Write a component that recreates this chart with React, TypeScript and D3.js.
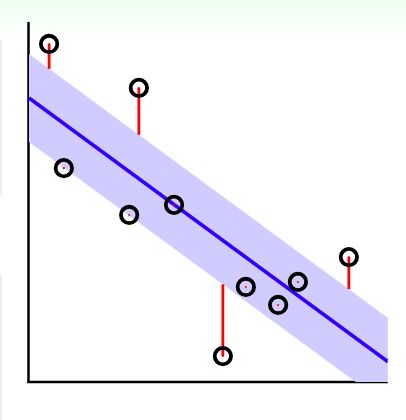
import React from "react";
import * as d3 from "d3";

const xs = [0.56, 3.06, 0.97, 2.79, 4.04, 5.4, 6.04, 6.94, 7.49, 8.91];
const ys = [9.39, 8.17, 5.94, 4.64, 4.92, 0.72, 2.64, 2.14, 2.78, 3.47];
const intercept = 7.89;
const slope = -0.733;
const halfWidth = 1.22;
const xDomain = [0, 10];
const yDomain = [0, 10];

export default function App() {
  const W = 406, H = 420;
  const left = 29, right = 388, top = 22, bottom = 382;
  const x = d3.scaleLinear().domain(xDomain).range([left, right]);
  const y = d3.scaleLinear().domain(yDomain).range([bottom, top]);
  const fit = (v: number) => intercept + slope * v;
  const x0 = xDomain[0], x1 = xDomain[1];
  const band = d3.area<number>()
    .x((v) => x(v))
    .y0((v) => y(fit(v) - halfWidth))
    .y1((v) => y(fit(v) + halfWidth))([x0, x1]) as string;
  const line = d3.line<number>().x((v) => x(v)).y((v) => y(fit(v)))([x0, x1]) as string;
  const pts = xs.map((v, i) => ({ x: v, y: ys[i] }));
  return (
    <svg width={W} height={H} style={{ position: "absolute", left: 0, top: 0 }}>
      <defs>
        <linearGradient id="bg" x1="0" y1="0" x2="0" y2="1">
          <stop offset="0" stopColor="#edfdef" />
          <stop offset="1" stopColor="#ffffff" />
        </linearGradient>
        <clipPath id="plot">
          <rect x={left} y={top} width={right - left} height={bottom - top} />
        </clipPath>
      </defs>
      <rect x={0} y={0} width={W} height={H} fill="#fff" />
      <rect x={0} y={0} width={W} height={40} fill="url(#bg)" />
      <rect x={0} y={40} width={2} height={155} fill="#eeeeee" />
      <rect x={0} y={275} width={2} height={145} fill="#eeeeee" />
      <line x1={left - 0.5} y1={top} x2={left - 0.5} y2={bottom + 1} stroke="#000" strokeWidth={2.5} />
      <line x1={left - 1.5} y1={bottom} x2={right} y2={bottom} stroke="#000" strokeWidth={2.5} />
      <g clipPath="url(#plot)">
        <path d={band} fill="#d0ccff" />
        <path d={line} fill="none" stroke="#3300ff" strokeWidth={3.6} />
      </g>
      <line x1={right} y1={y(fit(x1) + halfWidth)} x2={right} y2={bottom + 1} stroke="#ffffff" strokeWidth={1} strokeDasharray="1,1" opacity={0.7} />
      {pts.map((p, i) => {
        const f = fit(p.x);
        let edge: number | null = null;
        if (p.y > f + halfWidth) edge = f + halfWidth;
        else if (p.y < f - halfWidth) edge = f - halfWidth;
        return edge === null ? null : (
          <line key={"r" + i} x1={x(p.x)} y1={y(p.y)} x2={x(p.x)} y2={y(edge)} stroke="#ff0000" strokeWidth={2.8} />
        );
      })}
      {pts.map((p, i) => (
        <g key={"p" + i}>
          <circle cx={x(p.x)} cy={y(p.y)} r={8.2} fill="none" stroke="#000" strokeWidth={3.8} />
          <circle cx={x(p.x)} cy={y(p.y)} r={1} fill="#ff0000" />
        </g>
      ))}
    </svg>
  );
}
